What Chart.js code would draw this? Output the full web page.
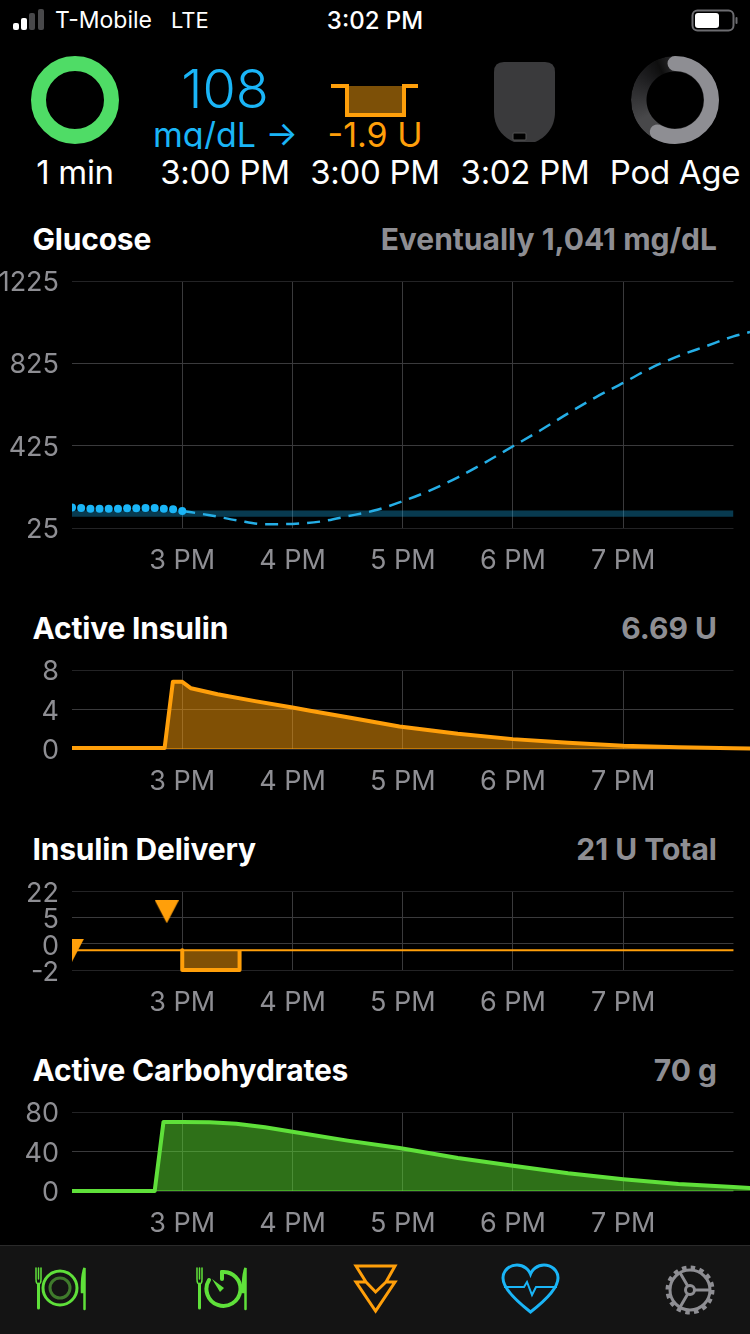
<!DOCTYPE html>
<html lang="en">
<head>
<meta charset="UTF-8">
<title>Loop status</title>
<script src="https://cdn.jsdelivr.net/npm/chart.js@4/dist/chart.umd.js"></script>
<style>
    html, body { margin: 0; padding: 0; background: #000; }
    body { position: relative; width: 750px; height: 1334px; overflow: hidden; font-family: Inter, "Noto Sans", sans-serif; color: #fff; }
    canvas { position: absolute; left: 0; }
    svg.art { position: absolute; left: 0; top: 0; }
    .t { position: absolute; white-space: nowrap; line-height: 1; }
    .c { transform: translateX(-50%); }
    .title { left: 32.5px; font-size: 30px; font-weight: 700; letter-spacing: -0.2px; }
    .note { right: 33px; font-size: 30px; font-weight: 700; color: #8e8e93; }
    .under { font-size: 33px; font-weight: 400; top: 156px; letter-spacing: -0.3px; }
    #tabbar { position: absolute; left: 0; top: 1245px; width: 750px; height: 89px; background: #141414; border-top: 1px solid #2a2a2a; box-sizing: border-box; }
    #podring { position: absolute; left: 631px; top: 56px; width: 88px; height: 88px; border-radius: 50%;
        background: conic-gradient(from 210deg, #48484a 0deg, #48484a 30deg, #1c1c1e 100deg, #0e0e0e 125deg, #2c2c2e 150deg);
        -webkit-mask: radial-gradient(circle, transparent 28px, #000 29px); mask: radial-gradient(circle, transparent 28px, #000 29px); }
</style>
</head>
<body>
    <div id="podring"></div>
    <div id="tabbar"></div>

    <svg class="art" width="750" height="1334" viewBox="0 0 750 1334" fill="none">
        <!-- status bar -->
        <rect x="13" y="23" width="6" height="7" rx="2" fill="#fff"/>
        <rect x="21" y="18" width="6" height="12" rx="2" fill="#fff"/>
        <rect x="29" y="13" width="6" height="17" rx="2" fill="#48484a"/>
        <rect x="38" y="9" width="6" height="21" rx="2" fill="#48484a"/>
        <rect x="692.5" y="10.5" width="41" height="20" rx="5" stroke="#6c6c70" stroke-width="2"/>
        <rect x="695" y="13" width="24" height="15" rx="3" fill="#fff"/>
        <rect x="735.5" y="17" width="2" height="7" rx="1" fill="#6c6c70"/>

        <!-- loop ring -->
        <circle cx="75" cy="100" r="36.5" stroke="#4fdc66" stroke-width="15"/>

        <!-- basal icon -->
        <rect x="347" y="86" width="57" height="29" fill="#7d5007"/>
        <path d="M331 86H347V115H404V86H418" stroke="#ff9f0a" stroke-width="4"/>

        <!-- pod -->
        <path d="M504 62H545Q555 62 555 72V112C555 128 545 138 535 142H514C504 138 494 128 494 112V72Q494 62 504 62Z" fill="#3a3a3c"/>
        <rect x="513" y="133" width="13" height="7" rx="1" fill="#000" stroke="#555" stroke-width="1"/>

        <!-- pod age arc -->
        <circle cx="675" cy="100" r="36.5" stroke="#8e8e93" stroke-width="15" stroke-linecap="round"
            stroke-dasharray="133 300" transform="rotate(-90 675 100)"/>

        <!-- tab: carbs -->
        <g stroke="#5fe03a" stroke-width="2" stroke-linecap="round">
            <path d="M38.5 1284V1308" stroke-width="3"/>
            <path d="M36 1268V1279Q36 1284 38.5 1284Q41 1284 41 1279V1268M38.5 1268V1279" stroke-width="1.5"/>
            <ellipse cx="60" cy="1288" rx="17" ry="17" stroke-width="3"/>
            <path d="M84.5 1309V1268Q81.5 1276 82 1292H84.5" stroke-width="2.5" fill="#5fe03a"/>
        </g>
        <ellipse cx="60" cy="1288" rx="10" ry="10" stroke="#3f7a2c" stroke-width="3"/>

        <!-- tab: absorption -->
        <g stroke="#5fe03a" stroke-linecap="round">
            <path d="M199.5 1284V1308" stroke-width="3"/>
            <path d="M197 1268V1279Q197 1284 199.5 1284Q202 1284 202 1279V1268M199.5 1268V1279" stroke-width="1.5"/>
            <path d="M222 1272A17 17 0 1 1 209 1280" stroke-width="4"/>
            <path d="M222 1272V1279" stroke-width="4"/>
            <path d="M245.5 1309V1268Q242.5 1276 243 1292H245.5" stroke-width="2.5" fill="#5fe03a"/>
        </g>
        <path d="M212 1279L224 1288L220 1292Z" fill="#5fe03a"/>

        <!-- tab: bolus -->
        <path d="M356 1266H395L386 1282H395L375.6 1311L356 1282H366ZM366 1282L375.6 1292L386 1282" stroke="#ff9f0a" stroke-width="3" stroke-linejoin="miter"/>

        <!-- tab: heart -->
        <path d="M530.5 1312C515 1300 503 1288 503 1278C503 1270 510 1265 517 1265C524 1265 529 1270 530.5 1274C532 1270 537 1265 544 1265C551 1265 558 1270 558 1278C558 1288 546 1300 530.5 1312Z" stroke="#1ab5f7" stroke-width="3"/>
        <path d="M504 1287H524L527 1282L532 1295L536 1287H557" stroke="#1ab5f7" stroke-width="2"/>

        <!-- tab: settings -->
        <g stroke="#8e8e93">
            <circle cx="690" cy="1290" r="20" stroke-width="3"/>
            <circle cx="690" cy="1290" r="22.5" stroke-width="4" stroke-dasharray="4.5 4.34"/>
            <circle cx="690" cy="1290" r="4.5" stroke-width="3"/>
            <path d="M694.5 1290H710M687.7 1294L680 1307.3M687.7 1286L680 1272.7" stroke-width="3"/>
        </g>
    </svg>

    <div class="t" style="left:55px;top:9px;font-size:23px;">T-Mobile</div>
    <div class="t" style="left:171px;top:9px;font-size:22px;">LTE</div>
    <div class="t c" style="left:375px;top:9px;font-size:24px;font-weight:500;">3:02 PM</div>

    <div class="t c" style="left:225px;top:62px;font-size:54px;font-weight:300;color:#1ab5f7;">108</div>
    <div class="t" style="left:153px;top:118px;height:31px;overflow:hidden;font-size:34px;font-weight:400;color:#1ab5f7;">mg/dL →</div>
    <div class="t c" style="left:375px;top:118px;height:31px;overflow:hidden;font-size:34px;font-weight:400;color:#ff9f0a;">-1.9 U</div>

    <div class="t c under" style="left:75px;">1 min</div>
    <div class="t c under" style="left:225px;">3:00 PM</div>
    <div class="t c under" style="left:375px;">3:00 PM</div>
    <div class="t c under" style="left:525px;">3:02 PM</div>
    <div class="t c under" style="left:675px;">Pod Age</div>

    <div class="t title" style="top:224px;">Glucose</div>
    <div class="t note" style="top:224px;">Eventually 1,041 mg/dL</div>
    <div class="t title" style="top:613px;">Active Insulin</div>
    <div class="t note" style="top:613px;">6.69 U</div>
    <div class="t title" style="top:834px;">Insulin Delivery</div>
    <div class="t note" style="top:834px;">21 U Total</div>
    <div class="t title" style="top:1055px;">Active Carbohydrates</div>
    <div class="t note" style="top:1055px;">70 g</div>

    <canvas id="glucoseChart" width="750" height="316" style="top:262px"></canvas>
    <canvas id="insulinChart" width="750" height="148" style="top:651px"></canvas>
    <canvas id="deliveryChart" width="750" height="148" style="top:872px"></canvas>
    <canvas id="carbsChart" width="750" height="148" style="top:1093px"></canvas>

    <script>
        // x values are clock hours (15 = 3 PM). Grid stops at gridEnd, curves carry on to xMax
        const xMin = 14, gridEnd = 20, xMax = 20.15;
        const xTickHours = [15, 16, 17, 18, 19];
        const xTickLabels = ['3 PM', '4 PM', '5 PM', '6 PM', '7 PM'];

        const glucoseTicks = [25, 425, 825, 1225];
        const glucoseHours = [14, 14.083, 14.167, 14.25, 14.333, 14.417, 14.5, 14.583, 14.667, 14.75, 14.833, 14.917, 15];
        const glucoseValues = [124, 122, 119, 119, 119, 119, 121, 121, 122, 122, 119, 116, 108];
        const predictedHours = [15, 15.25, 15.5, 15.75, 16, 16.25, 16.5, 16.75, 17, 17.25, 17.5, 17.75, 18, 18.25, 18.5, 18.75, 19, 19.25, 19.5, 19.75, 20, 20.15];
        const predictedValues = [108, 87, 62, 43, 45, 56, 82, 111, 155, 208, 271, 344, 422, 500, 582, 660, 730, 802, 860, 908, 956, 977];
        const targetLow = 80, targetHigh = 110;

        const insulinTicks = [0, 4, 8];
        const insulinHours = [14, 14.84, 14.915, 15, 15.08, 15.32, 15.66, 16, 16.16, 16.5, 16.97, 17.5, 18, 18.5, 19, 19.5, 20, 20.15];
        const insulinValues = [0.1, 0.1, 6.8, 6.8, 6.15, 5.55, 4.85, 4.2, 3.88, 3.22, 2.28, 1.55, 1.0, 0.63, 0.33, 0.18, 0.08, 0.06];

        // delivery axis has evenly spaced ticks that are not evenly spaced in units
        const deliveryTicks = [-2, 0, 5, 22];
        const basalHours = [14, 20];
        const basalUnits = [-0.5, -0.5];
        const tempBasalHours = [15, 15, 15.52, 15.52];
        const tempBasalUnits = [-0.5, -2, -2, -0.5];
        const bolusHours = [14, 14.86];
        const bolusUnits = [-0.5, 8.6];

        const carbsTicks = [0, 40, 80];
        const carbsHours = [14, 14.75, 14.83, 15, 15.25, 15.49, 15.75, 16, 16.5, 16.97, 17.5, 18, 18.5, 19, 19.5, 20, 20.15];
        const carbsValues = [0, 0, 70, 70, 69.5, 68, 64.5, 60, 51, 43.5, 33.5, 25.6, 18, 12, 7, 4, 3];

        const gridDim = '#232325', gridMid = '#3a3a3c', tickGray = '#8e8e93';
        const orange = '#ff9f0a', orangeFill = 'rgba(255,159,10,0.5)';
        const green = '#5fe03a', greenFill = 'rgba(91,224,48,0.5)';
        const blue = '#1ab5f7';
        const lineClip = { left: 0, right: 0, top: 20, bottom: 20 };

        function pts(xs, ys) {
            return xs.map((x, i) => ({ x: x, y: ys[i] }));
        }

        // position of a unit value on the evenly spaced delivery axis
        function deliverySlot(u) {
            for (let i = 0; i < deliveryTicks.length - 1; i++) {
                if (u <= deliveryTicks[i + 1]) {
                    return i + (u - deliveryTicks[i]) / (deliveryTicks[i + 1] - deliveryTicks[i]);
                }
            }
            return deliveryTicks.length - 1;
        }

        function bolusMark() {
            const c = document.createElement('canvas');
            c.width = 24;
            c.height = 23;
            const g = c.getContext('2d');
            g.fillStyle = orange;
            g.beginPath();
            g.moveTo(0, 0);
            g.lineTo(24, 0);
            g.lineTo(12, 23);
            g.closePath();
            g.fill();
            return c;
        }

        // wipes the grid past gridEnd, runs before the datasets are drawn
        const gridStop = {
            id: 'gridStop',
            beforeDatasetsDraw(chart) {
                const x = chart.scales.x.getPixelForValue(gridEnd);
                chart.ctx.save();
                chart.ctx.fillStyle = '#000';
                chart.ctx.fillRect(x, 0, chart.width - x, chart.height);
                chart.ctx.restore();
            }
        };

        function makeChart(id, datasets, yMin, yMax, yTicks, yLabel, labelShift) {
            return new Chart(document.getElementById(id), {
                type: 'line',
                data: { datasets: datasets },
                plugins: [gridStop],
                options: {
                    responsive: false,
                    animation: false,
                    devicePixelRatio: 1,
                    layout: { autoPadding: false, padding: { top: 19, right: 0, left: 0, bottom: 0 } },
                    plugins: { legend: { display: false }, tooltip: { enabled: false } },
                    elements: { point: { radius: 0 } },
                    scales: {
                        x: {
                            type: 'linear',
                            min: xMin,
                            max: xMax,
                            afterFit: a => { a.height = 50; a.paddingLeft = 0; a.paddingRight = 0; },
                            afterBuildTicks: a => { a.ticks = xTickHours.map(v => ({ value: v })); },
                            grid: { color: gridMid, drawTicks: false },
                            border: { display: false },
                            ticks: {
                                color: tickGray,
                                font: { family: 'Inter', size: 27 },
                                padding: 17,
                                maxRotation: 0,
                                autoSkip: false,
                                callback: (v, i) => xTickLabels[i]
                            }
                        },
                        y: {
                            min: yMin,
                            max: yMax,
                            afterFit: a => { a.width = 72; a.paddingTop = 0; a.paddingBottom = 0; },
                            afterBuildTicks: a => { a.ticks = yTicks.map(v => ({ value: v })); },
                            grid: {
                                drawTicks: false,
                                color: c => (c.tick && (c.tick.value === yMin || c.tick.value === yMax)) ? gridDim : gridMid
                            },
                            border: { display: false },
                            ticks: {
                                color: tickGray,
                                font: { family: 'Inter', size: 27 },
                                padding: 13,
                                labelOffset: labelShift,
                                autoSkip: false,
                                callback: yLabel
                            }
                        }
                    }
                }
            });
        }

        makeChart('glucoseChart', [
            { data: pts(glucoseHours, glucoseValues), showLine: false, pointRadius: 4, pointBackgroundColor: blue, pointBorderWidth: 0, clip: lineClip },
            { data: pts(predictedHours, predictedValues), borderColor: '#25aee6', borderWidth: 2.5, borderDash: [13, 8], cubicInterpolationMode: 'monotone', clip: lineClip },
            { data: [{ x: xMin, y: targetHigh }, { x: gridEnd, y: targetHigh }], borderWidth: 0, backgroundColor: 'rgba(26,181,247,0.32)', fill: { value: targetLow } }
        ], 25, 1225, glucoseTicks, v => String(v), 2);

        makeChart('insulinChart', [
            { data: pts(insulinHours, insulinValues), borderColor: orange, borderWidth: 4, borderJoinStyle: 'round', borderCapStyle: 'round', backgroundColor: orangeFill, fill: 'origin', clip: lineClip },
            { data: [{ x: insulinHours[1], y: 0 }, { x: gridEnd, y: 0 }], borderColor: orange, borderWidth: 1 }
        ], 0, 8, insulinTicks, v => String(v), 2);

        makeChart('deliveryChart', [
            { data: pts(bolusHours, bolusUnits.map(deliverySlot)), showLine: false, pointStyle: bolusMark(), pointRadius: 12, clip: lineClip },
            { data: pts(tempBasalHours, tempBasalUnits.map(deliverySlot)), borderColor: orange, borderWidth: 4, borderJoinStyle: 'round', backgroundColor: orangeFill, fill: { value: deliverySlot(basalUnits[0]) }, clip: lineClip },
            { data: pts(basalHours, basalUnits.map(deliverySlot)), borderColor: orange, borderWidth: 2, clip: lineClip }
        ], 0, deliveryTicks.length - 1, deliveryTicks.map((u, i) => i), v => String(deliveryTicks[v]), 3);

        makeChart('carbsChart', [
            { data: pts(carbsHours, carbsValues), borderColor: green, borderWidth: 4, borderJoinStyle: 'round', borderCapStyle: 'round', backgroundColor: greenFill, fill: 'origin', clip: lineClip },
            { data: [{ x: carbsHours[1], y: 0 }, { x: gridEnd, y: 0 }], borderColor: green, borderWidth: 1 }
        ], 0, 80, carbsTicks, v => String(v), 2);
    </script>
</body>
</html>
